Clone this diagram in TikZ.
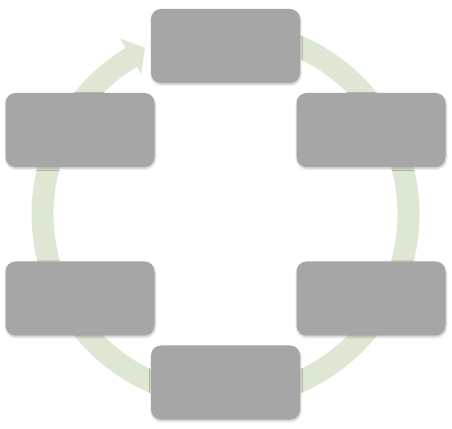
\documentclass[tikz,border=0pt]{standalone}
\usetikzlibrary{calc,shadows.blur}
\definecolor{ringgreen}{RGB}{222,231,212}
\definecolor{boxgray}{RGB}{166,166,166}
\tikzset{
  stagebox/.style={fill=boxgray, rounded corners=10pt, minimum width=149pt, minimum height=74pt, inner sep=0pt,
    blur shadow={shadow blur steps=6, shadow xshift=0.5pt, shadow yshift=-1.5pt, shadow opacity=25, shadow blur radius=2pt}},
}
\begin{document}
\begin{tikzpicture}
\useasboundingbox (0pt,0pt) rectangle (452pt,428pt);
\coordinate (c) at (225.5pt,213.75pt);
% cycle ring with arrowhead
\fill[ringgreen] ($(c)+(90:194pt)$) arc[start angle=90, end angle=-239, radius=194pt]
  -- ($(c)+(121:205pt)$) -- ($(c)+(115.8:185pt)$) -- ($(c)+(121:163.5pt)$)
  -- ($(c)+(121:172pt)$) arc[start angle=121, end angle=450, radius=172pt] -- cycle;
% boxes
\node[stagebox] (top) at (225.5pt,382pt) {};
\node[stagebox] (ur) at (371pt,298pt) {};
\node[stagebox] (lr) at (371pt,129.5pt) {};
\node[stagebox] (bot) at (225.5pt,45.5pt) {};
\node[stagebox] (ll) at (80pt,129.5pt) {};
\node[stagebox] (ul) at (80pt,298pt) {};
\end{tikzpicture}
\end{document}
